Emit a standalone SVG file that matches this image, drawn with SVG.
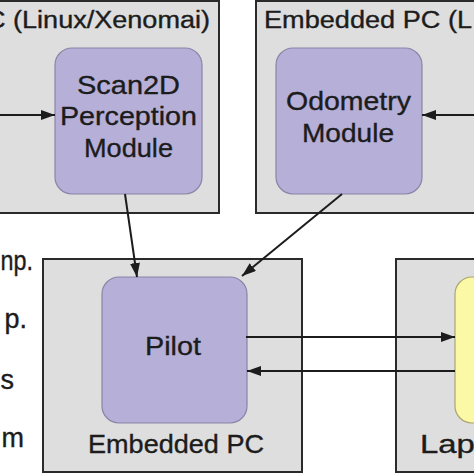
<svg xmlns="http://www.w3.org/2000/svg" width="474" height="474" viewBox="0 0 474 474">
<style>
.box{fill:#dedede;stroke:#2a2a2a;stroke-width:2}
.mod{fill:#b6afd8;stroke:#8a84a6;stroke-width:1.2}
.lap{fill:#fcf9a6;stroke:#aaa56e;stroke-width:1.2}
.t{font-family:"Liberation Sans",Arial,sans-serif;fill:#1c1c1c;stroke:#1c1c1c;stroke-width:0.35}
.c{stroke:#1c1c1c;stroke-width:2;fill:none;marker-end:url(#ah)}
</style>
<defs>
<marker id="ah" markerUnits="userSpaceOnUse" markerWidth="15" markerHeight="11" refX="14" refY="5" orient="auto">
<path d="M0,0 L14,5 L0,10 z" fill="#1c1c1c"/>
</marker>
</defs>
<rect width="474" height="474" fill="#ffffff"/>
<g id="pc-xenomai">
<rect class="box" x="-10" y="1" width="229" height="212"/>
<text class="t" x="-14" y="28" font-size="23" textLength="224" lengthAdjust="spacingAndGlyphs">C (Linux/Xenomai)</text>
</g>
<g id="pc-right">
<rect class="box" x="256" y="1" width="230" height="212"/>
<text class="t" x="264" y="28" font-size="23" textLength="208" lengthAdjust="spacingAndGlyphs">Embedded PC (L</text>
</g>
<g id="pc-embedded">
<rect class="box" x="43" y="259" width="259" height="213"/>
<text class="t" x="88" y="453" font-size="25" textLength="176" lengthAdjust="spacingAndGlyphs">Embedded PC</text>
</g>
<g id="laptop-box">
<rect class="box" x="396" y="259" width="90" height="213"/>
<text class="t" x="420" y="453" font-size="25" textLength="64" lengthAdjust="spacingAndGlyphs">Lapt</text>
</g>
<g id="scan2d">
<rect class="mod" x="55" y="48" width="147" height="146" rx="17"/>
<text class="t" x="77" y="94" font-size="26" textLength="103" lengthAdjust="spacingAndGlyphs">Scan2D</text>
<text class="t" x="60" y="125" font-size="26" textLength="137" lengthAdjust="spacingAndGlyphs">Perception</text>
<text class="t" x="84" y="157" font-size="26" textLength="89" lengthAdjust="spacingAndGlyphs">Module</text>
</g>
<g id="odometry">
<rect class="mod" x="276" y="48" width="146" height="146" rx="17"/>
<text class="t" x="286" y="110" font-size="26" textLength="125" lengthAdjust="spacingAndGlyphs">Odometry</text>
<text class="t" x="302" y="142" font-size="26" textLength="92" lengthAdjust="spacingAndGlyphs">Module</text>
</g>
<g id="pilot">
<rect class="mod" x="102" y="277" width="145" height="146" rx="17"/>
<text class="t" x="145" y="355" font-size="26" textLength="56" lengthAdjust="spacingAndGlyphs">Pilot</text>
</g>
<g id="laptop">
<rect class="lap" x="455" y="277" width="50" height="146" rx="17"/>
</g>
<g id="labels">
<text class="t" x="0.5" y="270" font-size="27" textLength="32.5" lengthAdjust="spacingAndGlyphs">np.</text>
<text class="t" x="27" y="328" font-size="27" text-anchor="end">p.</text>
<text class="t" x="14" y="389" font-size="27" text-anchor="end">s</text>
<text class="t" x="24" y="447" font-size="27" text-anchor="end">m</text>
</g>
<g id="connectors">
<line class="c" x1="0" y1="115" x2="55" y2="115"/>
<line class="c" x1="474" y1="115" x2="422" y2="115"/>
<line class="c" x1="125" y1="194" x2="137" y2="277"/>
<line class="c" x1="342" y1="194" x2="242" y2="276"/>
<line class="c" x1="246" y1="337" x2="455" y2="337"/>
<line class="c" x1="455" y1="371" x2="247" y2="371"/>
</g>
</svg>
